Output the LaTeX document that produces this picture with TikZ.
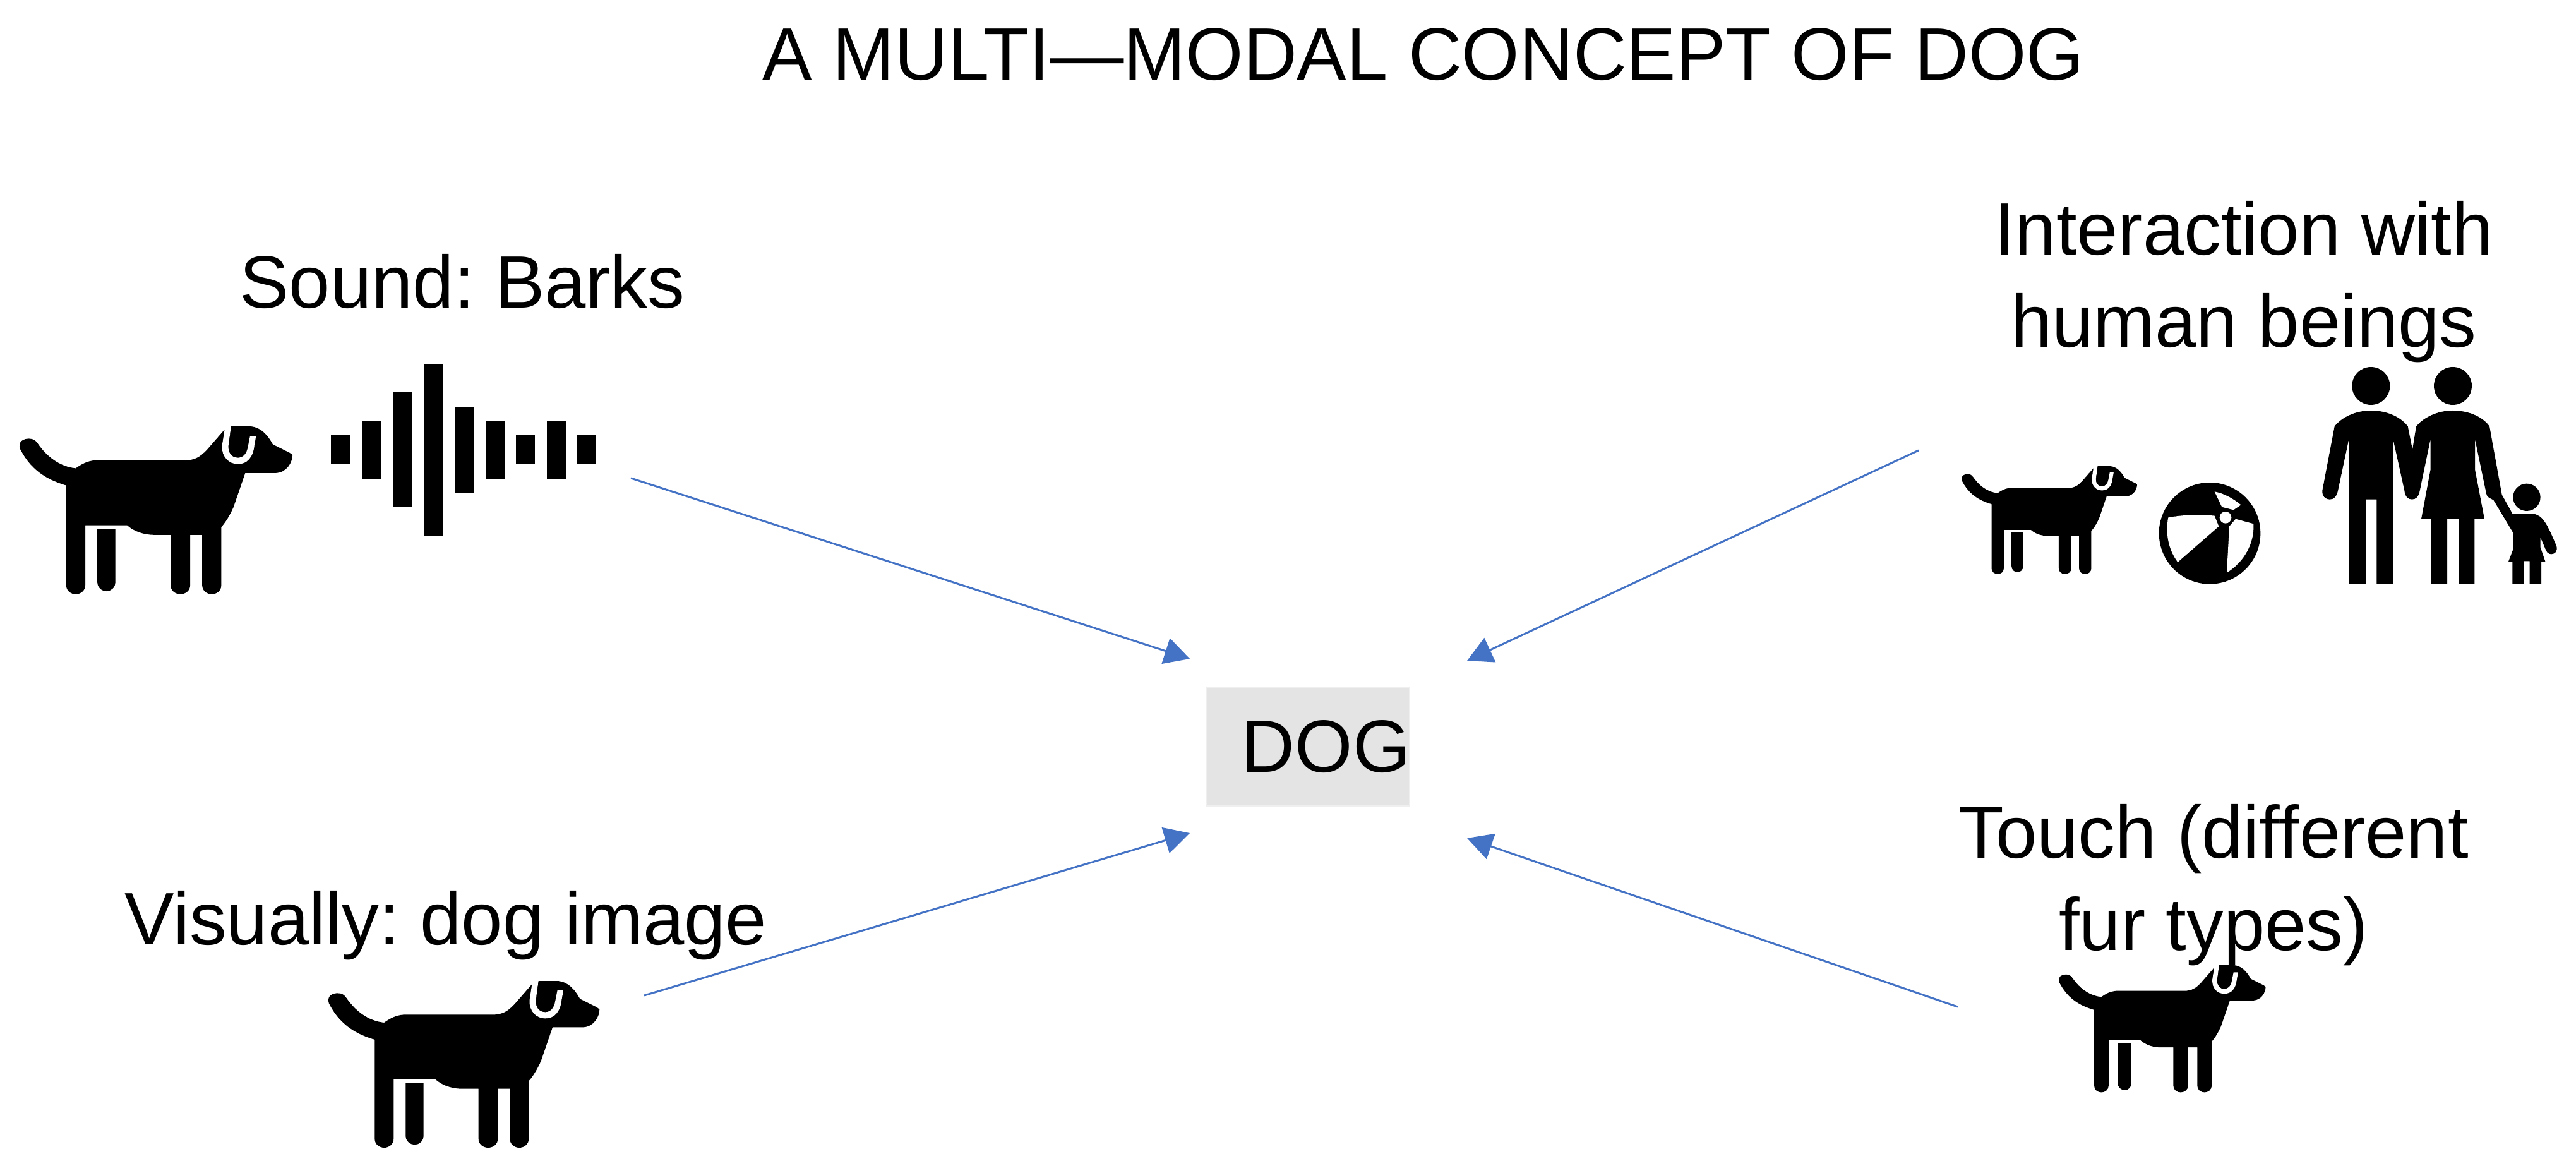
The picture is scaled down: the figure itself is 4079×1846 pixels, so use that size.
\documentclass[tikz,border=0pt]{standalone}
\usepackage{fontspec}
\setmainfont{Liberation Sans}
\usetikzlibrary{arrows.meta}
\definecolor{arrowblue}{HTML}{4472C4}
\definecolor{boxgray}{HTML}{E4E4E4}
\definecolor{boxedge}{HTML}{EFEFEF}
\tikzset{
  label text/.style={inner sep=0pt,align=center,font=\fontsize{33.4}{41.5}\selectfont,text=black},
  title text/.style={inner sep=0pt,font=\fontsize{33.4}{41.5}\selectfont,text=black},
  dogbox/.style={fill=boxgray,draw=boxedge,line width=0.02cm,inner sep=0pt,minimum height=1.87cm,text width=3.22cm,align=left,font=\fontsize{33.4}{41.5}\selectfont},
  feed/.style={draw=arrowblue,line width=0.03cm,-{Triangle[length=0.4cm,width=0.42cm]}},
  silhouette/.style={fill=black,draw=none},
  gap/.style={fill=white,draw=none}
}
\frenchspacing
\newcommand{\dogicon}[3]{%
\begin{scope}[shift={(#1,#2)},scale=#3,shift={(-120,-100)}]
  \path[silhouette] (345,380) .. controls (240,350) and (170,300) .. (122,205)
    .. controls (112,170) and (140,158) .. (165,158)
    .. controls (185,158) and (197,168) .. (205,180)
    .. controls (250,245) and (310,290) .. (385,298)
    .. controls (410,280) and (440,262) .. (480,260)
    -- (910,260) .. controls (960,258) and (985,230) .. (1005,210)
    -- (1085,118) -- (1120,100) -- (1210,100)
    .. controls (1260,105) and (1290,140) .. (1315,185)
    -- (1395,225) -- (1408,235)
    .. controls (1408,270) and (1380,318) .. (1330,320)
    -- (1185,320) -- (1130,480) .. controls (1110,525) and (1090,555) .. (1072,575)
    -- (1072,850) .. controls (1072,875) and (1050,892) .. (1027,892)
    .. controls (1004,892) and (982,875) .. (982,850)
    -- (982,612) -- (925,612) -- (925,850)
    .. controls (925,875) and (903,892) .. (879,892)
    .. controls (855,892) and (833,875) .. (833,850)
    -- (833,612) -- (750,612) .. controls (700,610) and (660,595) .. (628,567)
    -- (430,567) -- (430,850)
    .. controls (430,875) and (408,892) .. (385,892)
    .. controls (362,892) and (340,875) .. (340,850)
    -- (340,380) -- cycle;
  \path[silhouette] (487,585) -- (572,585) -- (572,835)
    .. controls (572,860) and (552,878) .. (530,878)
    .. controls (508,878) and (487,860) .. (487,835) -- cycle;
  \path[gap] (1088,112) -- (1076,190) .. controls (1072,245) and (1110,278) .. (1150,278)
    .. controls (1195,278) and (1222,245) .. (1228,190) -- (1236,145) -- (1208,145)
    -- (1198,195) .. controls (1192,230) and (1175,248) .. (1150,248)
    .. controls (1120,248) and (1105,225) .. (1105,195) -- (1118,98) -- (1095,98) -- cycle;
\end{scope}}
\begin{document}
\begin{tikzpicture}[x=0.01cm,y=-0.01cm]
\useasboundingbox (0,0) rectangle (4079,1846);
% texts
\node[title text] (title) at (2254,86) {A MULTI—MODAL CONCEPT OF DOG};
\node[label text] (sound) at (732,446) {Sound: Barks};
\node[label text] (human) at (3553,446) {Interaction with\\human beings};
\node[label text] (visual) at (706,1465) {Visually: dog image};
\node[label text] (touch) at (3505,1401) {Touch (different\\fur types)};
\node[dogbox] (dog) at (2071,1182.5) {\hspace*{0.56cm}\raisebox{-0.02cm}{DOG}};
% dogs
\dogicon{31}{675}{0.3355}
\dogicon{520}{1553}{0.3333}
\dogicon{3106}{738}{0.2158}
\dogicon{3260}{1528}{0.2543}
% waveform
\foreach \bx/\bt/\bb in {524/688/734,573/666/759,622/620/803,671/576/849,720/644/781,768.5/666/759,817/688/734,866/666/759,914/688/734}
  \path[silhouette] (\bx,\bt) rectangle (\bx+30,\bb);
% ball
\begin{scope}[shift={(3300,720)},scale=0.3333]
  \path[silhouette] (597,373) circle[radius=241];
  \path[gap] (400,298) .. controls (470,285) and (550,283) .. (620,290) -- (640,340) -- (445,510)
     .. controls (400,450) and (385,370) .. (400,298) -- cycle;
  \path[gap] (620,175) .. controls (670,185) and (710,210) .. (745,238) -- (710,262) -- (655,248) -- cycle;
  \path[gap] (720,305) -- (805,328) .. controls (810,420) and (760,510) .. (678,560) -- (690,340) -- cycle;
  \path[gap] (672,298) circle[radius=28];
\end{scope}
% family
\begin{scope}[shift={(3620,560)},scale=0.3333]
  \path[silhouette] (403,153) circle[radius=90];
  \path[silhouette] (792,153) circle[radius=90];
  \path[silhouette] (1143,682) circle[radius=65];
  \path[silhouette] (230,345) .. controls (270,295) and (340,270) .. (403,270)
    .. controls (470,270) and (540,295) .. (578,345) -- (600,455) -- (618,345)
    .. controls (660,295) and (730,270) .. (792,270)
    .. controls (860,270) and (930,295) .. (966,345)
    -- (1025,670) -- (1075,760) -- (1170,760)
    .. controls (1220,765) and (1240,810) .. (1285,915)
    .. controls (1290,940) and (1275,952) .. (1260,952)
    .. controls (1248,952) and (1240,945) .. (1235,935)
    -- (1208,872) -- (1208,920) -- (1232,990) -- (1212,990) -- (1212,1092)
    -- (1157,1092) -- (1157,985) -- (1130,985) -- (1130,1092) -- (1075,1092)
    -- (1075,990) -- (1055,990) -- (1080,925) -- (1078,850) -- (985,695)
    .. controls (965,685) and (952,680) .. (950,660)
    -- (897,405) -- (897,550) -- (942,785) -- (895,785) -- (895,1092) -- (820,1092)
    -- (820,785) -- (765,785) -- (765,1092) -- (690,1092) -- (690,785) -- (642,785)
    -- (686,550) -- (686,405) -- (635,650)
    .. controls (630,680) and (615,692) .. (598,692)
    .. controls (580,692) and (565,680) .. (562,650)
    -- (508,405) -- (508,1092) -- (430,1092) -- (430,692) -- (378,692) -- (378,1092)
    -- (298,1092) -- (298,405) -- (246,650)
    .. controls (240,680) and (225,692) .. (208,692)
    .. controls (185,692) and (170,675) .. (172,650) -- cycle;
\end{scope}
% connectors
\coordinate (soundEnd) at (999,757);
\coordinate (visualEnd) at (1020,1576);
\coordinate (humanEnd) at (3038,713);
\coordinate (touchEnd) at (3100,1594);
\coordinate (tipA) at (1884,1043);
\coordinate (tipB) at (1884,1319);
\coordinate (tipC) at (2323,1046);
\coordinate (tipD) at (2323,1327);
\draw[feed] (soundEnd) -- (tipA);
\draw[feed] (visualEnd) -- (tipB);
\draw[feed] (humanEnd) -- (tipC);
\draw[feed] (touchEnd) -- (tipD);
\end{tikzpicture}
\end{document}
